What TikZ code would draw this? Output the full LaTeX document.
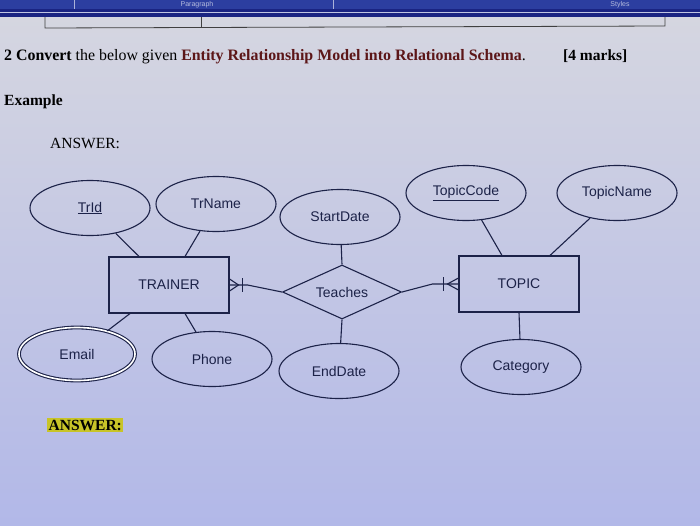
\documentclass[tikz,border=0pt]{standalone}
\usepackage{fontspec}
\setmainfont{Liberation Serif}
\setsansfont{Liberation Sans}
\usetikzlibrary{shapes.geometric,calc,positioning}

\definecolor{inkblue}{RGB}{28,34,72}
\definecolor{barblue}{RGB}{26,36,130}
\definecolor{tabblue}{RGB}{44,62,160}
\definecolor{bgtop}{RGB}{214,215,224}
\definecolor{bgbot}{RGB}{178,184,232}
\definecolor{maroon}{RGB}{92,22,24}
\definecolor{marker}{RGB}{200,196,40}

\tikzset{
  attr/.style={ellipse,draw=inkblue,line width=1.1pt,minimum width=120pt,minimum height=55pt,
    inner sep=0pt,font=\sffamily\fontsize{14}{14}\selectfont,text=inkblue},
  entity/.style={rectangle,draw=inkblue,line width=1.1pt,minimum width=120pt,minimum height=56pt,
    font=\sffamily\fontsize{14}{14}\selectfont,text=inkblue},
  rel/.style={diamond,draw=inkblue,line width=1.1pt,aspect=2.2,minimum width=119pt,minimum height=54pt,
    inner sep=0pt,font=\sffamily\fontsize{14}{14}\selectfont,text=inkblue},
  link/.style={draw=inkblue,line width=1.1pt},
  doctext/.style={anchor=west,inner sep=0pt,font=\fontsize{15.5}{16}\selectfont}
}

\begin{document}
\begin{tikzpicture}[x=1pt,y=-1pt]
  \useasboundingbox (0,0) rectangle (700,525);

  % screen background and toolbar
  \shade[top color=bgtop,bottom color=bgbot] (0,0) rectangle (700,525);
  \fill[barblue] (0,0) rectangle (700,17);
  \fill[tabblue] (0,0) rectangle (700,9);
  \draw[white!70!tabblue,line width=0.8pt] (0,12) -- (700,12);
  \draw[white!60!tabblue] (74,0) -- (74,9) (333,0) -- (333,9);
  \node[text=white!65!tabblue,inner sep=0pt,font=\sffamily\fontsize{7}{7}\selectfont] (tabpar) at (197,4.5) {Paragraph};
  \node[text=white!65!tabblue,inner sep=0pt,font=\sffamily\fontsize{7}{7}\selectfont] (tabsty) at (620,4.5) {Styles};
  \draw[black!75,line width=0.8pt] (45,17) -- (45,28) -- (665,26) -- (665,17);
  \draw[black!75,line width=0.8pt] (201,17) -- (201,27);

  % question text
  \node[doctext,font=\fontsize{15.9}{16}\selectfont] (title) at (4,57) {\textbf{2 Convert} the below given \textcolor{maroon}{\textbf{Entity Relationship Model into Relational Schema}}.};
  \node[doctext] (marks) at (563,56) {\textbf{[4 marks]}};
  \node[doctext] (example) at (4,102) {\textbf{Example}};
  \node[doctext] (answer) at (50,143) {ANSWER:};
  \node[doctext,fill=marker,inner sep=1.5pt] (answer2) at (47,425) {\textbf{ANSWER:}};

  % ER diagram
  \node[attr] (trid) at (90,208) {\underline{TrId}};
  \node[attr] (trname) at (216,204) {TrName};
  \node[attr] (startdate) at (340,217) {StartDate};
  \node[attr] (topiccode) at (466,193) {\underline{TopicCode}};
  \node[attr] (topicname) at (617,193) {TopicName};

  \node[entity] (trainer) at (169,285) {TRAINER};
  \node[rel] (teaches) at (342,292) {Teaches};
  \node[entity] (topic) at (519,284) {TOPIC};

  \node[attr,double,double distance=1.6pt,minimum width=116pt,minimum height=53pt] (email) at (77,354) {Email};
  \node[attr] (phone) at (212,359) {Phone};
  \node[attr] (enddate) at (339,371) {EndDate};
  \node[attr] (category) at (521,367) {Category};

  \draw[link] (trid) -- (trainer.north west -| 139,0);
  \draw[link] (trname) -- (trainer.north west -| 185,0);
  \draw[link] (startdate) -- (teaches.north);
  \draw[link] (topiccode) -- (topic.north west -| 502,0);
  \draw[link] (topicname) -- (topic.north west -| 550,0);
  \draw[link] (trainer.south west -| 130,0) -- (email);
  \draw[link] (trainer.south west -| 185,0) -- (phone);
  \draw[link] (teaches.south) -- (enddate);
  \draw[link] (topic.south) -- (category);

  % crow's feet on both sides of Teaches
  \draw[link] (trainer.east) -- ++(18,0) -- (teaches.west);
  \coordinate (trfoot) at ($(trainer.east)+(9,0)$);
  \draw[link] ($(trainer.east)+(0,-6)$) -- (trfoot) -- ($(trainer.east)+(0,6)$);
  \draw[link] ($(trainer.east)+(13,-7)$) -- ++(0,14);

  \draw[link] (teaches.east) -- ($(topic.west)+(-26,0)$) -- (topic.west);
  \coordinate (tpfoot) at ($(topic.west)+(-11,0)$);
  \draw[link] ($(topic.west)+(0,-6)$) -- (tpfoot) -- ($(topic.west)+(0,6)$);
  \draw[link] ($(topic.west)+(-15,-7)$) -- ++(0,14);
\end{tikzpicture}
\end{document}
